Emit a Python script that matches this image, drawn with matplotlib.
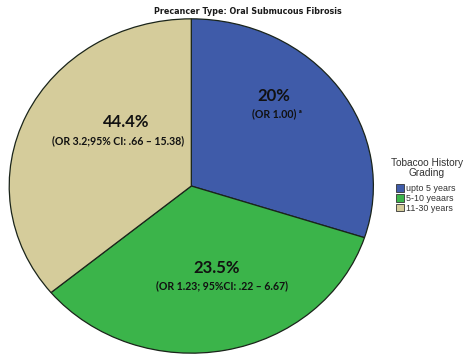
import matplotlib.pyplot as plt
from matplotlib.patches import Patch

# slice sizes (about 30 / 34 / 36 %)
groups = ["upto 5 years", "5-10 yeaars", "11-30 years"]
slice_sizes = [15, 17, 18]
percent_labels = ["20%", "23.5%", "44.4%"]
or_labels = ["(OR 1.00) \u1d43", "(OR 1.23; 95%CI: .22 \u2013 6.67)", "(OR 3.2;95% CI: .66 \u2013 15.38)"]
colors = ["#3F5BA9", "#3BB44A", "#D5CC9B"]

# label anchors inside each wedge (pie data units)
pct_pos = [(0.454, 0.54), (0.137, -0.49), (-0.36, 0.38)]
or_pos = [(0.47, 0.435), (0.17, -0.595), (-0.40, 0.27)]

W, H = 474, 364
fig = plt.figure(figsize=(W / 100, H / 100), dpi=100)
fig.patch.set_facecolor("white")

ax = fig.add_axes([8.3 / W, (H - 354) / H, 366 / W, 336 / H])
wedges, _ = ax.pie(slice_sizes, colors=colors, startangle=90, counterclock=False,
                   wedgeprops=dict(edgecolor="#1a241a", linewidth=0.9))
ax.set_aspect("auto")
ax.set_xlim(-1.005, 1.005)
ax.set_ylim(-1.005, 1.005)
ax.axis("off")

for (x, y), t in zip(pct_pos, percent_labels):
    ax.text(x, y, t, ha="center", va="center", fontsize=12, fontweight="bold",
            family="Lato", color="#111111")
for (x, y), t in zip(or_pos, or_labels):
    ax.text(x, y, t, ha="center", va="center", fontsize=7.6, fontweight="bold",
            family="Lato", color="#111111")

fig.text(248 / W, 1 - 11.7 / H, "Precancer Type: Oral Submucous Fibrosis",
         ha="center", va="center", fontsize=5.8, fontweight="bold", color="#1a1a1a")

# legend title drawn separately so the gap above the entries matches
fig.text(427 / W, 1 - 168 / H, "Tobacoo History\nGrading", ha="center", va="center",
         family="Liberation Sans", fontsize=7.3, color="#333333", linespacing=1.0)

handles = [Patch(facecolor=c, edgecolor="#333333", linewidth=0.6) for c in colors]
leg = fig.legend(handles, groups, loc="upper left", bbox_to_anchor=(396 / W, 1 - 184 / H),
                 frameon=False, prop=dict(family="Liberation Sans", size=6.4),
                 handlelength=0.9, handleheight=0.9, handletextpad=0.2,
                 labelspacing=0.1, borderpad=0, borderaxespad=0)
for t in leg.get_texts():
    t.set_color("#333333")

fig.savefig("out.png", dpi=100)
